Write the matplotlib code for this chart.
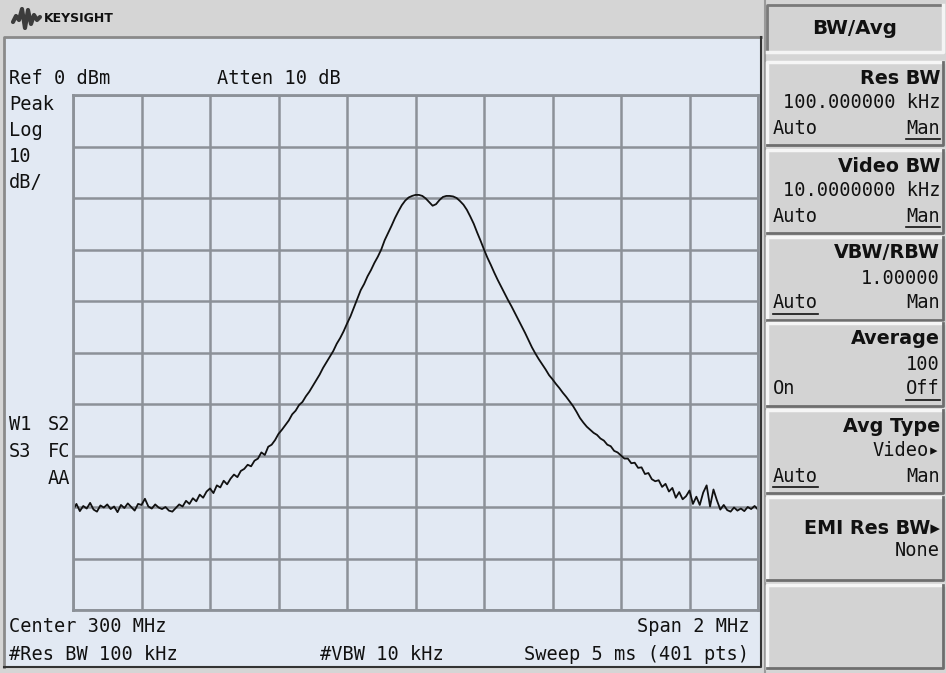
import matplotlib

matplotlib.use("Agg")
import matplotlib.pyplot as plt
import numpy as np
from matplotlib.lines import Line2D
from matplotlib.patches import Rectangle

W, H = 946, 673

# sweep: center 300 MHz, span 2 MHz, ref 0 dBm, 10 dB/div
CENTER_MHZ = 300.0
SPAN_MHZ = 2.0
REF_DBM = 0.0
DB_PER_DIV = 10.0

# trace, 0.01 MHz steps from 299.00 to 301.00 MHz
trace_dbm = [
    -80.6, -79.4, -80.8, -79.8, -80.3, -79.2, -80.5, -80.9, -79.7, -80.1,
    -79.5, -80.4, -79.9, -81.0, -79.6, -80.2, -79.3, -80.0, -80.7, -79.4,
    -79.6, -78.4, -79.9, -80.3, -79.5, -80.1, -80.4, -80.0, -80.7, -80.9,
    -80.2, -79.5, -79.9, -78.8, -79.4, -78.3, -78.9, -77.6, -78.2, -77.0,
    -76.4, -77.3, -75.8, -76.2, -74.9, -75.6, -74.5, -73.7, -74.2, -73.0,
    -72.6, -71.8, -72.1, -71.0, -70.6, -69.4, -69.9, -68.3, -67.9, -67.0,
    -65.8, -65.0, -64.1, -63.2, -62.0, -61.3, -60.2, -59.6, -58.5, -57.6,
    -56.5, -55.4, -54.3, -53.0, -51.9, -50.8, -49.7, -48.3, -47.2, -45.9,
    -44.4, -43.0, -41.3, -39.6, -37.9, -36.7, -35.2, -34.0, -32.6, -31.4,
    -30.0, -28.2, -26.8, -25.4, -23.9, -22.6, -21.4, -20.5, -19.9, -19.6,
    -19.4, -19.4, -19.6, -20.1, -20.8, -21.5, -21.2, -20.4, -19.8, -19.6,
    -19.6, -19.7, -20.0, -20.6, -21.3, -22.3, -23.6, -25.0, -26.7, -28.3,
    -30.0, -31.6, -33.0, -34.5, -35.9, -37.2, -38.5, -39.8, -41.0, -42.3,
    -43.6, -44.9, -46.2, -47.6, -49.0, -50.2, -51.3, -52.3, -53.3, -54.4,
    -55.2, -56.1, -56.9, -57.8, -58.6, -59.5, -60.4, -61.5, -62.7, -63.6,
    -64.4, -65.0, -65.6, -66.0, -66.7, -67.1, -67.9, -68.2, -69.1, -69.4,
    -70.0, -70.6, -70.6, -71.5, -71.4, -72.4, -72.3, -73.6, -73.4, -74.6,
    -75.0, -74.8, -76.1, -75.5, -77.0, -76.3, -78.2, -77.1, -78.5, -77.9,
    -76.8, -79.4, -78.0, -79.6, -77.2, -75.8, -79.9, -76.6, -78.7, -80.5,
    -79.6, -80.6, -80.9, -80.1, -80.7, -80.3, -80.8, -80.0, -80.4, -79.8,
    -80.5,
]

# annotation texts on the screen
left_labels = ["Peak", "Log", "10", "dB/"]
status_rows = [("W1", "S2"), ("S3", "FC"), ("", "AA")]

# softkey menu: (title, value, left option, right option, underlined side)
menu_title = "BW/Avg"
softkeys = [
    ("Res BW", "100.000000 kHz", "Auto", "Man", "right"),
    ("Video BW", "10.0000000 kHz", "Auto", "Man", "right"),
    ("VBW/RBW", "1.00000", "Auto", "Man", "left"),
    ("Average", "100", "On", "Off", "right"),
    ("Avg Type", "Video\u25b8", "Auto", "Man", "left"),
    ("EMI Res BW\u25b8", "None", "", "", None),
    ("", "", "", "", None),
]

BG = "#d5d5d5"
SCREEN = "#e2e9f3"
GRID = "#8c9198"
MONO = "DejaVu Sans Mono"
MONO_SIZE = 13.4
KEY_SIZE = 13.8


def px(x, y):
    return x / W, 1 - y / H


def fig_line(fig, xs, ys, zorder=-4, **kw):
    fx = [x / W for x in xs]
    fy = [1 - y / H for y in ys]
    fig.add_artist(Line2D(fx, fy, transform=fig.transFigure, zorder=zorder, **kw))


def fig_rect(fig, x0, y0, x1, y1, **kw):
    fig.add_artist(
        Rectangle(
            (x0 / W, 1 - y1 / H),
            (x1 - x0) / W,
            (y1 - y0) / H,
            transform=fig.transFigure,
            zorder=-5,
            **kw,
        )
    )


def txt(fig, x, y, s, ha="left", size=MONO_SIZE, family=MONO, weight="normal"):
    fx, fy = px(x, y)
    fig.text(fx, fy, s, ha=ha, va="center", fontsize=size,
             family=family, weight=weight, color="#111111")


def underline(fig, x_left, x_right, y):
    fig_line(fig, [x_left, x_right], [y, y], zorder=3, color="#111111", lw=1.2)


def draw_key(fig, x0, y0, x1, y1):
    fig_rect(fig, x0, y0, x1, y1, facecolor="#d3d3d3", edgecolor="none")
    fig_line(fig, [x0, x0, x1], [y1, y0, y0], color="#f6f6f6", lw=2.5)
    fig_line(fig, [x0, x1, x1], [y1, y1, y0], color="#6e6e6e", lw=2.0)


def main():
    fig = plt.figure(figsize=(W / 100, H / 100), dpi=100)
    fig.patch.set_facecolor(BG)

    # logo
    logo_x = [13, 16, 19, 22, 25, 28, 31, 34, 37, 40]
    logo_y = [22, 16, 20, 9, 28, 10, 24, 15, 20, 17]
    fig_line(fig, logo_x, logo_y, color="#3c3c3c", lw=3.0,
             solid_joinstyle="round", solid_capstyle="round")
    txt(fig, 44, 19, "KEYSIGHT", size=9, family="DejaVu Sans", weight="bold")

    # screen panel
    fig_rect(fig, 4, 37, 761, 667, facecolor=SCREEN, edgecolor="none")
    fig_line(fig, [4, 4, 761], [667, 37, 37], color="#8a8a8a", lw=2.0)
    fig_line(fig, [4, 761, 761], [667, 667, 37], color="#333333", lw=1.5)

    # trace area
    ax = fig.add_axes([73 / W, 1 - 610 / H, 685 / W, 515 / H])
    ax.set_facecolor(SCREEN)
    freqs = CENTER_MHZ - SPAN_MHZ / 2 + 0.01 * np.arange(len(trace_dbm))
    ax.plot(freqs, trace_dbm, color="#111111", lw=1.3)
    ax.set_xlim(CENTER_MHZ - SPAN_MHZ / 2, CENTER_MHZ + SPAN_MHZ / 2)
    ax.set_ylim(REF_DBM - 10 * DB_PER_DIV, REF_DBM)
    ax.set_xticks(np.linspace(CENTER_MHZ - SPAN_MHZ / 2, CENTER_MHZ + SPAN_MHZ / 2, 11))
    ax.set_yticks(np.linspace(REF_DBM - 10 * DB_PER_DIV, REF_DBM, 11))
    ax.grid(True, color=GRID, lw=1.8)
    ax.set_axisbelow(True)
    ax.tick_params(length=0, labelbottom=False, labelleft=False)
    for spine in ax.spines.values():
        spine.set_color(GRID)
        spine.set_linewidth(2.0)

    # screen annotations
    txt(fig, 9, 79, f"Ref {REF_DBM:.0f} dBm")
    txt(fig, 217, 79, "Atten 10 dB")
    for i, label in enumerate(left_labels):
        txt(fig, 9, 104 + 26.3 * i, label)
    for i, (a, b) in enumerate(status_rows):
        txt(fig, 9, 425 + 26.8 * i, a)
        txt(fig, 70, 425 + 26.8 * i, b, ha="right")
    txt(fig, 9, 627, f"Center {CENTER_MHZ:.0f} MHz")
    txt(fig, 9, 654, "#Res BW 100 kHz")
    txt(fig, 320, 654, "#VBW 10 kHz")
    txt(fig, 749, 627, f"Span {SPAN_MHZ:.0f} MHz", ha="right")
    txt(fig, 749, 654, "Sweep 5 ms (401 pts)", ha="right")

    # softkey menu
    fig_line(fig, [765, 765], [0, 673], color="#9a9a9a", lw=1.5)
    fig_rect(fig, 767, 5, 943, 52, facecolor="#d3d3d3", edgecolor="none")
    fig_line(fig, [767, 767, 943], [52, 5, 5], color="#7a7a7a", lw=2.0)
    fig_line(fig, [767, 943, 943], [52, 52, 5], color="#f4f4f4", lw=2.5)
    txt(fig, 855, 29, menu_title, ha="center", size=KEY_SIZE + 0.5,
        family="DejaVu Sans", weight="bold")

    key_tops = [62, 150, 237, 323, 410, 497, 585]
    key_h = 83
    char_w = 11.2
    for top, (title, value, left, right, ul) in zip(key_tops, softkeys):
        draw_key(fig, 767, top, 943, top + key_h)
        if title.startswith("EMI"):
            txt(fig, 940, top + 31, title, ha="right", size=KEY_SIZE,
                family="DejaVu Sans", weight="bold")
            txt(fig, 940, top + 54, value, ha="right")
            continue
        if title:
            txt(fig, 940, top + 16, title, ha="right", size=KEY_SIZE,
                family="DejaVu Sans", weight="bold")
        if value:
            txt(fig, 940, top + 41, value, ha="right")
        if left:
            txt(fig, 773, top + 66, left)
            txt(fig, 940, top + 66, right, ha="right")
        if ul == "left":
            underline(fig, 773, 773 + char_w * len(left), top + 77)
        elif ul == "right":
            underline(fig, 940 - char_w * len(right), 940, top + 77)

    fig.savefig("out.png", dpi=100, facecolor=fig.get_facecolor())
    plt.close(fig)


if __name__ == "__main__":
    main()
